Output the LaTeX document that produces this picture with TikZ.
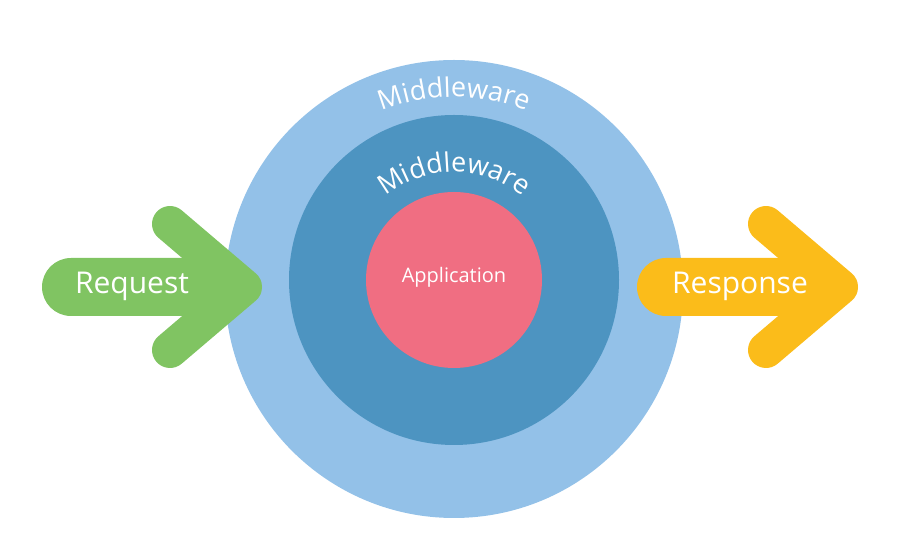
\documentclass[tikz,border=0pt]{standalone}
\usepackage{fontspec}
\setmainfont{Open Sans}
\usetikzlibrary{decorations.text}
\definecolor{outerc}{HTML}{93C1E8}
\definecolor{midc}{HTML}{4D94C1}
\definecolor{appc}{HTML}{F06E82}
\definecolor{reqc}{HTML}{80C462}
\definecolor{resc}{HTML}{FBBC1A}
\begin{document}
\begin{tikzpicture}[x=1pt,y=1pt,
  chev/.style={line width=36pt,line cap=round,line join=round},
  lbl/.style={text=white,font=\fontsize{30}{32}\selectfont},
  curv/.style={decorate,decoration={text along path,text align=center,
     text={|\fontsize{27}{28}\selectfont\color{white}|Middleware}}}]
\useasboundingbox (0,0) rectangle (900,559);
\fill[outerc] (454,270) circle[radius=229];
\fill[midc] (454,279) circle[radius=165];
\fill[appc] (454,279) circle[radius=88];
\node[text=white,font=\fontsize{20}{22}\selectfont] (app) at (454,282) {Application};
\path[curv] ([shift={(150:192)}]454,270) arc[start angle=150,end angle=30,radius=192];
\path[curv] ([shift={(150:108)}]454,279) arc[start angle=150,end angle=30,radius=108];
% request
\draw[reqc,chev] (170,335) -- (244,272) -- (170,209);
\fill[reqc] (71,243) arc[start angle=270,end angle=90,radius=29] -- (225,301) -- (225,243) -- cycle;
\node[lbl] (req) at (132,273) {Request};
% response
\draw[resc,chev] (766,335) -- (840,272) -- (766,209);
\fill[resc] (666,243) arc[start angle=270,end angle=90,radius=29] -- (820,301) -- (820,243) -- cycle;
\node[lbl] (res) at (740,273) {Response};
\end{tikzpicture}
\end{document}
